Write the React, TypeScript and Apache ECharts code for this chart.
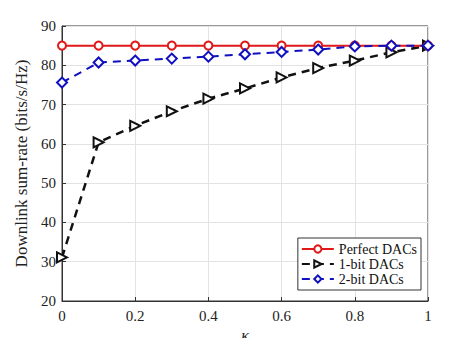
import React, { useEffect, useRef } from "react";
import * as echarts from "echarts";

const kappa = [0, 0.1, 0.2, 0.3, 0.4, 0.5, 0.6, 0.7, 0.8, 0.9, 1];
const perfect = [85, 85, 85, 85, 85, 85, 85, 85, 85, 85, 85];
const oneBit = [31.1, 60.4, 64.6, 68.3, 71.5, 74.1, 76.9, 79.3, 81.2, 83.3, 85];
const twoBit = [75.6, 80.7, 81.2, 81.7, 82.2, 82.8, 83.4, 84.0, 84.8, 85, 85];

const FONT = "Liberation Serif";

export default function App() {
  const ref = useRef<HTMLDivElement>(null);
  useEffect(() => {
    if (!ref.current) return;
    const chart = echarts.init(ref.current, null, { renderer: "svg" });
    const pair = (ys: number[]) => kappa.map((k, i) => [k, ys[i]]);
    chart.setOption({
      animation: false,
      backgroundColor: "#fff",
      textStyle: { fontFamily: FONT },
      grid: {
        left: 62, right: 46, top: 26, bottom: 45,
        outerBoundsMode: "none",
        show: true, borderColor: "#333", borderWidth: 1,
      },
      xAxis: {
        type: "value",
        min: 0,
        max: 1,
        interval: 0.2,
        name: "κ",
        nameLocation: "middle",
        nameGap: 20,
        nameTextStyle: { fontFamily: FONT, fontSize: 16, fontStyle: "italic", color: "#222" },
        axisLine: { show: true, lineStyle: { color: "#333" } },
        axisTick: { show: true, inside: true, length: 4, lineStyle: { color: "#333" } },
        axisLabel: { fontFamily: FONT, fontSize: 15, color: "#222", margin: 7 },
        splitLine: { show: true, lineStyle: { color: "#e3e3e3" } },
      },
      yAxis: {
        type: "value",
        min: 20,
        max: 90,
        interval: 10,
        name: "Downlink sum-rate (bits/s/Hz)",
        nameLocation: "middle",
        nameGap: 27,
        nameTextStyle: { fontFamily: FONT, fontSize: 17, color: "#222" },
        axisLine: { show: true, lineStyle: { color: "#333" } },
        axisTick: { show: true, inside: true, length: 4, lineStyle: { color: "#333" } },
        axisLabel: { fontFamily: FONT, fontSize: 15, color: "#222", margin: 6 },
        splitLine: { show: true, lineStyle: { color: "#e3e3e3" } },
      },
      legend: {
        orient: "vertical",
        right: 53,
        top: 238,
        backgroundColor: "#fff",
        borderColor: "#333",
        borderWidth: 1,
        padding: [4, 4, 4, 3],
        itemGap: 1,
        itemWidth: 32,
        itemHeight: 9,
        textStyle: { fontFamily: FONT, fontSize: 14, color: "#111" },
        data: ["Perfect DACs", "1-bit DACs", "2-bit DACs"],
      },
      series: [
        {
          name: "Perfect DACs",
          type: "line",
          data: pair(perfect),
          symbol: "circle",
          symbolSize: 8,
          itemStyle: { color: "#fff", borderColor: "#e01818", borderWidth: 2 },
          lineStyle: { color: "#e01818", width: 2 },
          z: 3,
        },
        {
          name: "1-bit DACs",
          type: "line",
          data: pair(oneBit),
          symbol: "triangle",
          symbolRotate: -90,
          symbolSize: 10,
          itemStyle: { color: "#fff", borderColor: "#111", borderWidth: 2 },
          lineStyle: { color: "#111", width: 2.5, type: [8, 6] },
          z: 2,
        },
        {
          name: "2-bit DACs",
          type: "line",
          data: pair(twoBit),
          symbol: "diamond",
          symbolSize: 10,
          itemStyle: { color: "#fff", borderColor: "#1010c0", borderWidth: 2 },
          lineStyle: { color: "#1010c0", width: 2, type: [8, 6] },
          z: 4,
        },
      ],
    });
    return () => chart.dispose();
  }, []);
  return <div ref={ref} style={{ width: 474, height: 346, margin: -8 }} />;
}
